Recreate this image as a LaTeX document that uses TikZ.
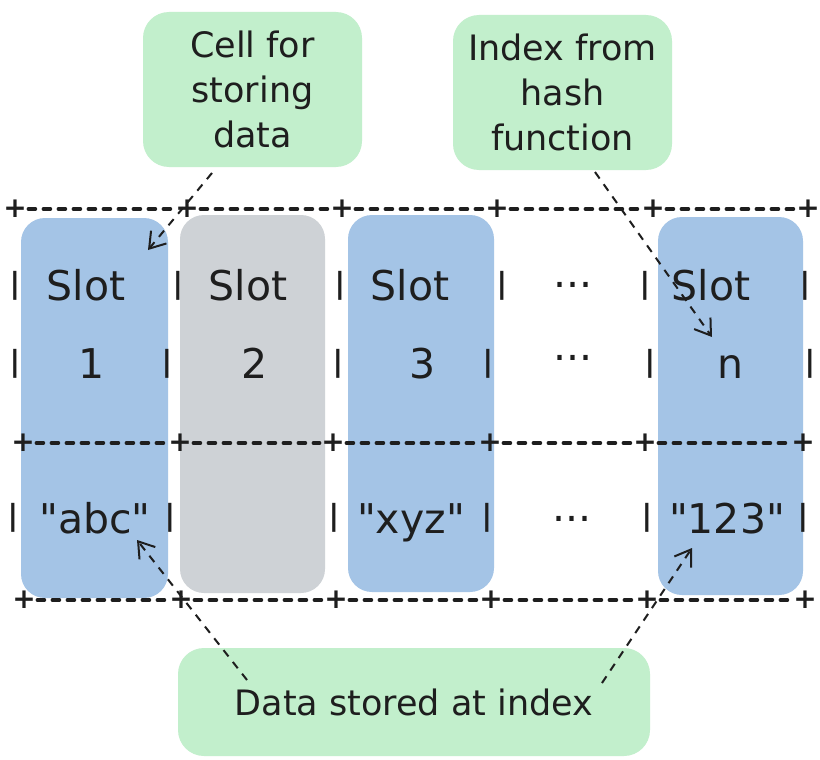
\documentclass[tikz,border=0pt]{standalone}
\usepackage{fontspec}
\newfontfamily\hand{DejaVu Sans}
\usetikzlibrary{arrows.meta}
\definecolor{ink}{HTML}{1E1E1E}
\definecolor{slotblue}{RGB}{164,196,230}
\definecolor{slotgrey}{RGB}{206,210,214}
\definecolor{notegreen}{RGB}{194,239,204}
\begin{document}
\begin{tikzpicture}[x=1pt,y=-1pt,
  slotbox/.style={rounded corners=24pt, inner sep=0pt, draw=none},
  notebox/.style={fill=notegreen, rounded corners=26pt, inner sep=0pt, align=center,
    text=ink, font=\hand\fontsize{35}{45}\selectfont},
  tabtext/.style={text=ink, inner sep=0pt, font=\hand\fontsize{41}{48}\selectfont},
  plusmark/.style={text=ink, inner sep=1.5pt, font=\hand\bfseries\fontsize{28}{28}\selectfont},
  barmark/.style={text=ink, inner sep=0pt, font=\hand\bfseries\fontsize{29}{29}\selectfont},
  rowline/.style={draw=ink, line width=3.6pt, dash pattern=on 7pt off 8pt, line cap=round},
  arr/.style={draw=ink, line width=2pt, dash pattern=on 8pt off 7pt,
    -{Straight Barb[length=15pt,width=20pt,line width=2pt]}}]
\useasboundingbox[fill=white] (0,0) rectangle (820,760);

% slot columns
\node[slotbox, fill=slotblue, minimum width=147pt, minimum height=380pt] (col1) at (94.5,408) {};
\node[slotbox, fill=slotgrey, minimum width=145pt, minimum height=378pt] (col2) at (252.5,404) {};
\node[slotbox, fill=slotblue, minimum width=146pt, minimum height=377pt] (col3) at (421,403.5) {};
\node[slotbox, fill=slotblue, minimum width=145pt, minimum height=378pt] (col5) at (730.5,406) {};

% notes
\node[notebox, minimum width=219pt, minimum height=155pt] (note1) at (252.5,89.5) {Cell for\\storing\\data};
\node[notebox, minimum width=219pt, minimum height=155pt] (note2) at (562.5,92.5) {Index from\\hash\\function};
\node[notebox, minimum width=472pt, minimum height=108pt] (note3) at (414,702) {Data stored at index};

% plus marks
\foreach \x [count=\i] in {15,187,342,497,653,808} \node[plusmark] (pA\i) at (\x,209) {+};
\foreach \x [count=\i] in {23,180,333,490,645,803} \node[plusmark] (pB\i) at (\x,443) {+};
\foreach \x [count=\i] in {24,181,336,491,647,805} \node[plusmark] (pC\i) at (\x,600) {+};
\foreach \r in {A,B,C}{
  \foreach \i [evaluate=\i as \j using int(\i+1)] in {1,...,5}
    \draw[rowline] (p\r\i) -- (p\r\j);
}

% bars
\foreach \x [count=\i] in {15,178,340,502,645,805} \node[barmark] (bA\i) at (\x,286) {|};
\foreach \x [count=\i] in {15,167,338,488,650,810} \node[barmark] (bB\i) at (\x,364) {|};
\foreach \x [count=\i] in {13,170,334,487,647,803} \node[barmark] (bC\i) at (\x,518) {|};

% table texts
\node[tabtext, anchor=base] (s1) at (86,300) {Slot};
\node[tabtext, anchor=base] (s2) at (248,300) {Slot};
\node[tabtext, anchor=base] (s3) at (410,300) {Slot};
\node[tabtext] (s4) at (573,285) {...};
\node[tabtext, anchor=base] (s5) at (711,300) {Slot};
\node[tabtext, anchor=base] (n1) at (92,378) {1};
\node[tabtext, anchor=base] (n2) at (255,378) {2};
\node[tabtext, anchor=base] (n3) at (423,378) {3};
\node[tabtext] (n4) at (573,358) {...};
\node[tabtext, anchor=base] (n5) at (730,378) {n};
\node[tabtext, anchor=base] (d1) at (95,533) {"abc"};
\node[tabtext, anchor=base] (d3) at (411,533) {"xyz"};
\node[tabtext] (d4) at (572,519) {...};
\node[tabtext, anchor=base] (d5) at (727,533) {"123"};

% arrows
\coordinate (a1s) at (212,173); \coordinate (a1e) at (148,250);
\coordinate (a2s) at (595,172); \coordinate (a2e) at (712,337);
\coordinate (a3s) at (247,680); \coordinate (a3e) at (137,540);
\coordinate (a4s) at (602,683); \coordinate (a4e) at (692,548);
\draw[arr] (a1s) -- (a1e);
\draw[arr] (a2s) -- (a2e);
\draw[arr] (a3s) -- (a3e);
\draw[arr] (a4s) -- (a4e);
\end{tikzpicture}
\end{document}
